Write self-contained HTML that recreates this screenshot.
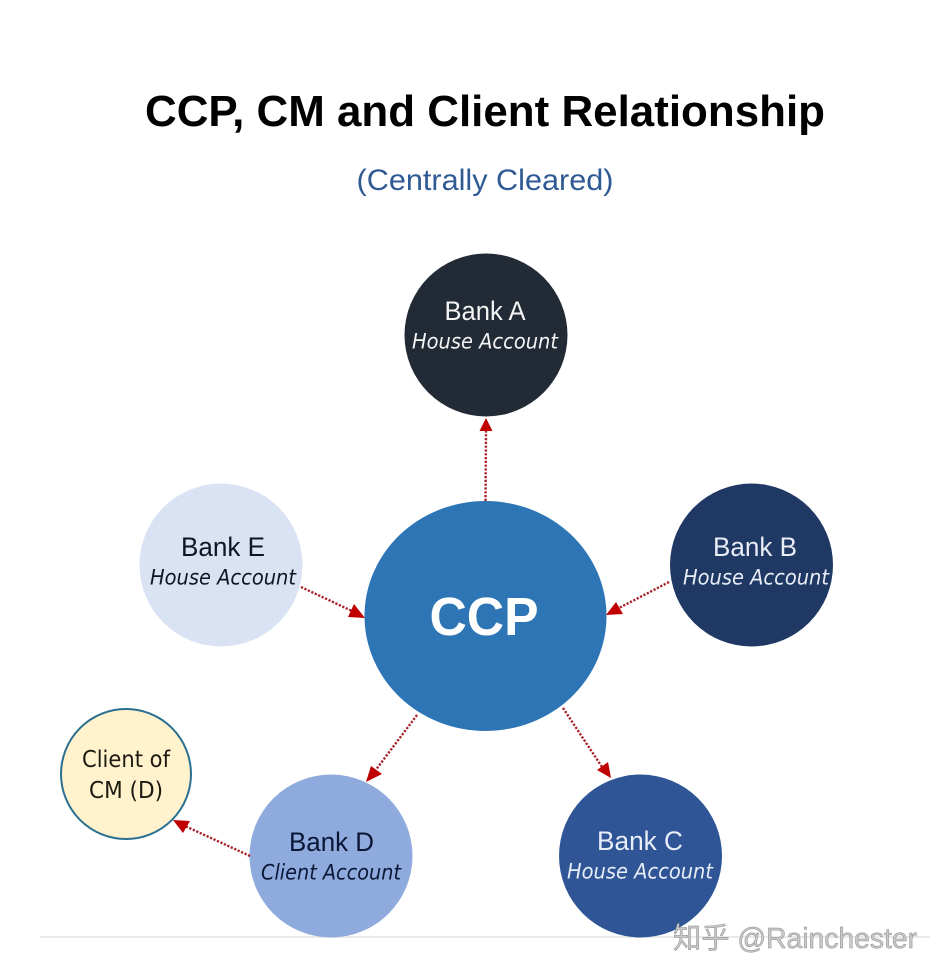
<!DOCTYPE html>
<html>
<head>
<meta charset="utf-8">
<style>
html,body{margin:0;padding:0;background:#fff;}
svg{display:block;}
.a{font-family:"Liberation Sans",sans-serif;}
.i{font-family:"DejaVu Sans","Liberation Sans",sans-serif;font-style:italic;}
.n{font-family:"DejaVu Sans","Liberation Sans",sans-serif;}
</style>
</head>
<body>
<svg width="940" height="977" viewBox="0 0 940 977" xmlns="http://www.w3.org/2000/svg">
<rect width="940" height="977" fill="#fff"/>
<line x1="40" y1="937" x2="930" y2="937" stroke="#e2e2e2" stroke-width="1.5"/>

<text class="a" x="485" y="126" font-size="44" font-weight="bold" text-anchor="middle" fill="#000" textLength="680" lengthAdjust="spacingAndGlyphs">CCP, CM and Client Relationship</text>
<text class="a" x="485" y="190" font-size="30" text-anchor="middle" fill="#2f5a94" textLength="257" lengthAdjust="spacingAndGlyphs">(Centrally Cleared)</text>

<circle cx="486" cy="335" r="81.5" fill="#222a35"/>
<circle cx="751.5" cy="565" r="81.5" fill="#203864"/>
<circle cx="221" cy="565" r="81.5" fill="#dae3f3"/>
<circle cx="331" cy="856" r="81.5" fill="#8faadc"/>
<circle cx="640.5" cy="856" r="81.5" fill="#2f5597"/>
<ellipse cx="485.5" cy="616" rx="121" ry="115" fill="#2e75b6"/>
<circle cx="126" cy="774" r="65" fill="#fff2cc" stroke="#2b7090" stroke-width="2"/>

<g stroke="#a82028" stroke-width="2.4" stroke-dasharray="2.2 1.6" fill="none">
<line x1="485.5" y1="501" x2="486" y2="431"/>
<line x1="669" y1="582" x2="619" y2="608"/>
<line x1="301" y1="587" x2="352" y2="611"/>
<line x1="417" y1="715" x2="375" y2="771"/>
<line x1="563" y1="708" x2="602" y2="767"/>
<line x1="250" y1="856" x2="185" y2="826"/>
</g>
<g fill="#c00000">
<polygon points="486,418 479.5,431 492.5,431"/>
<polygon points="606,615 616,602 623,614"/>
<polygon points="365,618 348,617 354,604"/>
<polygon points="366,782 371,766 382,774"/>
<polygon points="611,778 597,770 608,762"/>
<polygon points="173,820 190,821 183,833"/>
</g>

<text class="a" x="485" y="320" font-size="27" text-anchor="middle" fill="#f4f4f4" textLength="81" lengthAdjust="spacingAndGlyphs">Bank A</text>
<text class="i" x="485" y="348.5" font-size="21" text-anchor="middle" fill="#f4f4f4" textLength="146" lengthAdjust="spacingAndGlyphs">House Account</text>

<text class="a" x="755" y="556" font-size="27" text-anchor="middle" fill="#e8edf6" textLength="84" lengthAdjust="spacingAndGlyphs">Bank B</text>
<text class="i" x="756" y="584.5" font-size="21" text-anchor="middle" fill="#e8edf6" textLength="146" lengthAdjust="spacingAndGlyphs">House Account</text>

<text class="a" x="223" y="556" font-size="27" text-anchor="middle" fill="#0d1526" textLength="84" lengthAdjust="spacingAndGlyphs">Bank E</text>
<text class="i" x="223" y="584.5" font-size="21" text-anchor="middle" fill="#0d1526" textLength="146" lengthAdjust="spacingAndGlyphs">House Account</text>

<text class="a" x="331.5" y="851" font-size="27" text-anchor="middle" fill="#0b1736" textLength="85" lengthAdjust="spacingAndGlyphs">Bank D</text>
<text class="i" x="331" y="879.5" font-size="21" text-anchor="middle" fill="#0b1736" textLength="140" lengthAdjust="spacingAndGlyphs">Client Account</text>

<text class="a" x="640" y="850" font-size="27" text-anchor="middle" fill="#e8eef8" textLength="86" lengthAdjust="spacingAndGlyphs">Bank C</text>
<text class="i" x="640" y="878.5" font-size="21" text-anchor="middle" fill="#e8eef8" textLength="146" lengthAdjust="spacingAndGlyphs">House Account</text>

<text class="a" x="484" y="635" font-size="54" font-weight="bold" text-anchor="middle" fill="#fff" textLength="109" lengthAdjust="spacingAndGlyphs">CCP</text>

<text class="n" x="126" y="767" font-size="23" text-anchor="middle" fill="#1c1a10" textLength="88" lengthAdjust="spacingAndGlyphs">Client of</text>
<text class="n" x="126" y="798" font-size="23" text-anchor="middle" fill="#1c1a10" textLength="74" lengthAdjust="spacingAndGlyphs">CM (D)</text>

<text x="795" y="948" font-family="'Liberation Sans','Noto Sans CJK SC',sans-serif" font-size="29" text-anchor="middle" fill="#c9c9c9" stroke="#8a8a8a" stroke-width=".5" textLength="244" lengthAdjust="spacingAndGlyphs">知乎 @Rainchester</text>
</svg>
</body>
</html>
